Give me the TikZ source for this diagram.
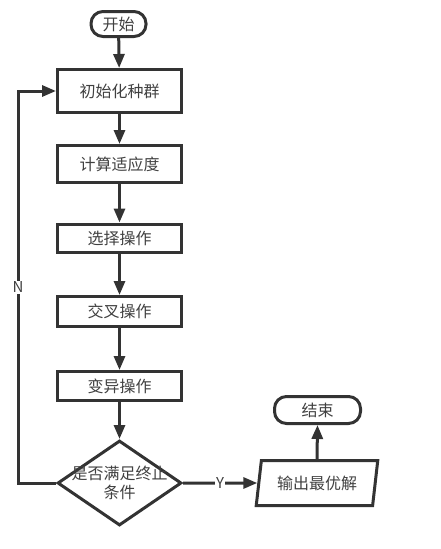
\documentclass[tikz,border=0pt]{standalone}
\usepackage{fontspec}
\newfontfamily\cjk{Noto Sans CJK SC}
\usetikzlibrary{shapes.geometric,arrows.meta}

\newlength{\du}
\setlength{\du}{1pt}
\definecolor{dialinecolor}{rgb}{0.200000, 0.200000, 0.200000}
\definecolor{dialinetext}{rgb}{0.250000, 0.250000, 0.250000}

\begin{document}
\begin{tikzpicture}[
  stepbox/.style={draw=dialinecolor, line width=3\du, minimum width=124\du, inner sep=0pt,
    text=dialinetext, font=\cjk\fontsize{16}{19}\selectfont},
  termbox/.style={stepbox, rounded corners=12\du},
  flow/.style={draw=dialinecolor, line width=3\du, -{Triangle[length=14pt,width=11pt]}},
  flowlabel/.style={fill=white, inner sep=1\du, text=dialinetext, font=\cjk\fontsize{15}{18}\selectfont}]
\pgftransformxscale{1.000000}
\pgftransformyscale{-1.000000}
\useasboundingbox (0\du,0\du) rectangle (440\du,549\du);
% terminals
\node[termbox, minimum width=55\du, minimum height=25\du] (start) at (118.500000\du,24.000000\du){开始};
\node[termbox, minimum width=86\du, minimum height=27\du] (finish) at (317.500000\du,410.000000\du){结束};
% steps
\node[stepbox, minimum height=43\du] (init) at (119.500000\du,91.000000\du){初始化种群};
\node[stepbox, minimum height=37\du] (fitness) at (119.500000\du,164.000000\du){计算适应度};
\node[stepbox, minimum height=28\du] (select) at (119.500000\du,238.000000\du){选择操作};
\node[stepbox, minimum height=30\du] (cross) at (119.500000\du,311.500000\du){交叉操作};
\node[stepbox, minimum height=29\du] (mutate) at (119.500000\du,386.000000\du){变异操作};
% decision
\node[stepbox, diamond, minimum width=124\du, minimum height=85\du] (check) at (119.500000\du,483.000000\du){};
\node[text=dialinetext, font=\cjk\fontsize{16}{19}\selectfont, align=center, inner sep=0pt] (checktext) at (check.center){是否满足终止\\条件};
% output
\node[stepbox, trapezium, trapezium left angle=76, trapezium right angle=104, trapezium stretches=true,
  minimum width=122\du, minimum height=45\du] (output) at (317.000000\du,483.000000\du){输出最优解};
% connectors
\draw[flow] (start) -- (init);
\draw[flow] (init) -- (fitness);
\draw[flow] (fitness) -- (select);
\draw[flow] (select) -- (cross);
\draw[flow] (cross) -- (mutate);
\draw[flow] (mutate) -- (check);
\draw[flow] (check.east) -- node[flowlabel]{Y} (output.west);
\draw[flow] (output.north) -- (finish.south);
\coordinate (loop) at (18.000000\du,483.000000\du);
\draw[flow] (check.west) -- (loop) |- node[flowlabel, pos=0.25]{N} (init.west);
\end{tikzpicture}
\end{document}
